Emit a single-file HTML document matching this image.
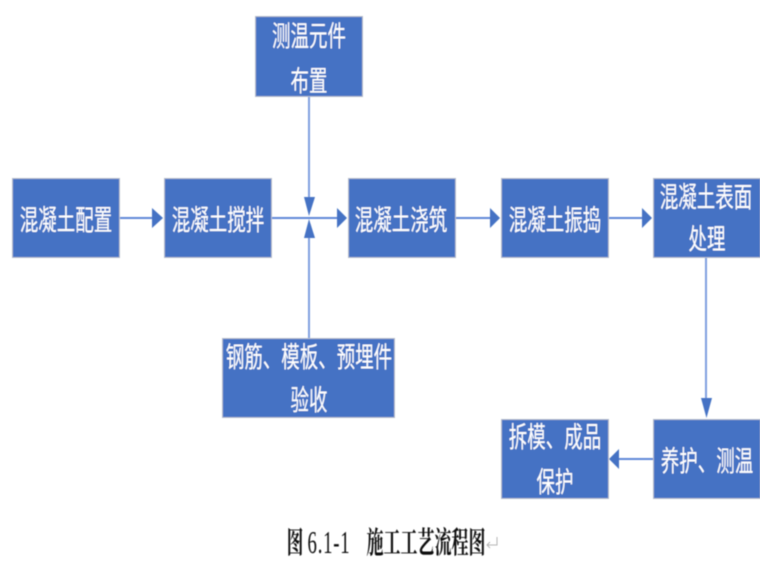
<!DOCTYPE html>
<html>
<head>
<meta charset="utf-8">
<style>
html,body{margin:0;padding:0;background:#fff;width:760px;height:570px;overflow:hidden}
svg{display:block}
.t{font-family:"Liberation Sans","Noto Sans CJK SC",sans-serif;font-size:24px;fill:#fff;text-anchor:middle}
.c{font-family:"Liberation Serif","Noto Serif CJK SC",serif;font-size:25px;fill:#111;text-anchor:middle;font-weight:700}
rect{fill:#4472c4;stroke:#b4bccb;stroke-width:1}
.l{stroke:#7f9fe0;stroke-width:2;fill:none}
.h{stroke:#6088d8;stroke-width:2;fill:none}
.a{fill:#4472c4}
</style>
</head>
<body>
<svg width="760" height="570" viewBox="0 0 760 570" xmlns="http://www.w3.org/2000/svg">
<defs><filter id="b" x="-5%" y="-5%" width="110%" height="110%"><feGaussianBlur stdDeviation="0.45"/></filter></defs>
<g filter="url(#b)">
<rect x="12.500" y="178.500" width="107" height="79"/>
<rect x="164.500" y="178.500" width="107" height="79"/>
<rect x="348.500" y="178.500" width="107" height="79"/>
<rect x="501.500" y="178.500" width="107" height="79"/>
<rect x="653.500" y="178.500" width="107" height="79"/>
<rect x="255.500" y="16.500" width="107" height="80"/>
<rect x="222.500" y="338.500" width="172" height="79"/>
<rect x="653.500" y="419.500" width="107" height="79"/>
<rect x="501.500" y="419.500" width="107" height="79"/>

<path class="h" d="M120 218H153M272 218H338M456 218H491M609 218H643M653 459H619"/>
<path class="l" d="M309 97V198M309 238V338M706 258V400"/>
<polygon class="a" points="163,218 152,208 152,228"/>
<polygon class="a" points="347,218 337,208 337,228"/>
<polygon class="a" points="500,218 490,208 490,228"/>
<polygon class="a" points="652,218 642,208 642,228"/>
<polygon class="a" points="309,216 304,197 315,197"/>
<polygon class="a" points="309,219 304,238 315,238"/>
<polygon class="a" points="706.500,418 701,398 712,398"/>
<polygon class="a" points="609,459 619,449 619,469"/>

<g>
<text class="t" transform="translate(66 230) scale(.77 1.18)">混凝土配置</text>
<text class="t" transform="translate(218 230) scale(.77 1.18)">混凝土搅拌</text>
<text class="t" transform="translate(401 230) scale(.77 1.18)">混凝土浇筑</text>
<text class="t" transform="translate(555 230) scale(.77 1.18)">混凝土振捣</text>
<text class="t" transform="translate(706 207) scale(.77 1.18)">混凝土表面</text>
<text class="t" transform="translate(707 249) scale(.77 1.18)">处理</text>
<text class="t" transform="translate(309 46) scale(.77 1.18)">测温元件</text>
<text class="t" transform="translate(309 91) scale(.77 1.18)">布置</text>
<text class="t" transform="translate(309 367) scale(.77 1.18)">钢筋、模板、预埋件</text>
<text class="t" transform="translate(309 410) scale(.77 1.18)">验收</text>
<text class="t" transform="translate(707 471) scale(.77 1.18)">养护、测温</text>
<text class="t" transform="translate(555 447) scale(.77 1.18)">拆模、成品</text>
<text class="t" transform="translate(555 492) scale(.77 1.18)">保护</text>
</g>

<text class="c" transform="translate(295 553) scale(.66 1.2)">图</text>
<text class="c" transform="translate(329 553) scale(.78 1.3)" style="font-size:24px;font-weight:400" letter-spacing="1">6.1-1</text>
<text class="c" transform="translate(426 553) scale(.68 1.2)">施工工艺流程图</text>
<path d="M497 537V545H487M490 542L487 545L490 548" fill="none" stroke="#b5b5b5" stroke-width="1"/>
</g>
</svg>
</body>
</html>
